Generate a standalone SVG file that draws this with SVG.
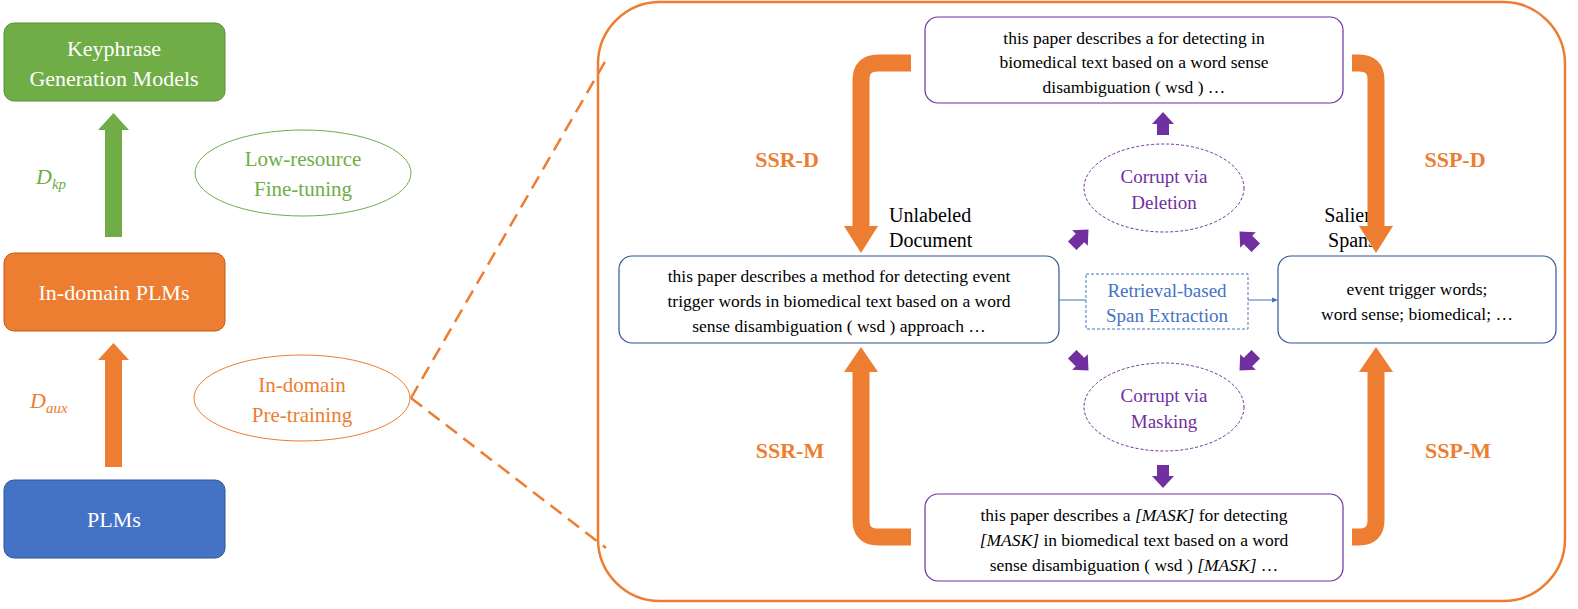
<svg xmlns="http://www.w3.org/2000/svg" width="1578" height="609" viewBox="0 0 1578 609">
<style>
text{font-family:"Liberation Serif","Times New Roman",serif}
.w{fill:#fff;font-size:22px;text-anchor:middle}
.t{fill:#000;font-size:17.5px;text-anchor:middle}
.p{fill:#7030a0;font-size:19px;text-anchor:middle}
.lab{fill:#ed7d31;font-size:22px;font-weight:bold;text-anchor:middle}
.box{fill:#fff;stroke:#7030a0;stroke-width:1.2}
.bbox{fill:#fff;stroke:#2f5597;stroke-width:1.2}
.ob{fill:none;stroke:#ed7d31;stroke-width:17}
.pa{fill:#7030a0}
</style>
<defs>
<polygon id="pa" points="-6,11 6,11 6,0 11,0 0,-12 -11,0 -6,0"/>
</defs>
<g id="kgm"><rect x="4" y="23" width="221" height="78" rx="10" fill="#70ad47" stroke="#5b8f3a"/><text class="w" x="114" y="56">Keyphrase</text><text class="w" x="114" y="86">Generation Models</text></g>
<g id="idplm"><rect x="4" y="253" width="221" height="78" rx="10" fill="#ed7d31" stroke="#c55a11"/><text class="w" x="114" y="300">In-domain PLMs</text></g>
<g id="plm"><rect x="4" y="480" width="221" height="78" rx="10" fill="#4472c4" stroke="#2f5597"/><text class="w" x="114" y="527">PLMs</text></g>
<g id="left-arrows">
<polygon points="105,237 122,237 122,130 129,130 113.5,113 98,130 105,130" fill="#70ad47"/>
<polygon points="105,467 122,467 122,360 129,360 113.5,343 98,360 105,360" fill="#ed7d31"/>
<text x="36" y="184" fill="#70ad47" font-size="22" font-style="italic">D<tspan font-size="15" dy="5">kp</tspan></text>
<text x="30" y="408" fill="#ed7d31" font-size="22" font-style="italic">D<tspan font-size="15" dy="5">aux</tspan></text>
</g>
<g id="finetune"><ellipse cx="303" cy="173" rx="108" ry="43" fill="none" stroke="#70ad47"/><text x="303" y="166" fill="#70ad47" font-size="21" text-anchor="middle">Low-resource</text><text x="303" y="196" fill="#70ad47" font-size="21" text-anchor="middle">Fine-tuning</text></g>
<g id="pretrain"><ellipse cx="302" cy="398" rx="108" ry="43" fill="none" stroke="#ed7d31"/><text x="302" y="392" fill="#ed7d31" font-size="21" text-anchor="middle">In-domain</text><text x="302" y="422" fill="#ed7d31" font-size="21" text-anchor="middle">Pre-training</text></g>
<g id="zoomlines" stroke="#ed7d31" stroke-width="2.5" stroke-dasharray="14,8" fill="none"><path d="M411,398 L606,60"/><path d="M411,398 L606,548"/></g>
<g id="panel"><rect x="598" y="2" width="967" height="599" rx="62" fill="none" stroke="#ed7d31" stroke-width="2.5"/></g>
<g id="delbox"><rect class="box" x="925" y="17" width="418" height="86" rx="13"/><text class="t" x="1134" y="44">this paper describes a for detecting in</text><text class="t" x="1134" y="68">biomedical text based on a word sense</text><text class="t" x="1134" y="93">disambiguation ( wsd ) …</text></g>
<g id="docbox"><rect class="bbox" x="619" y="256" width="440" height="87" rx="13"/><text class="t" x="839" y="282">this paper describes a method for detecting event</text><text class="t" x="839" y="307">trigger words in biomedical text based on a word</text><text class="t" x="839" y="332">sense disambiguation ( wsd ) approach …</text></g>
<g id="spanbox"><rect class="bbox" x="1278" y="256" width="278" height="87" rx="13"/><text class="t" x="1417" y="295">event trigger words;</text><text class="t" x="1417" y="320">word sense; biomedical; …</text></g>
<g id="maskbox"><rect class="box" x="925" y="494" width="418" height="87" rx="13"/><text class="t" x="1134" y="521">this paper describes a <tspan font-style="italic">[MASK]</tspan> for detecting</text><text class="t" x="1134" y="546"><tspan font-style="italic">[MASK]</tspan> in biomedical text based on a word</text><text class="t" x="1134" y="571">sense disambiguation ( wsd ) <tspan font-style="italic">[MASK]</tspan> …</text></g>
<g id="retrieval"><rect x="1086" y="274" width="162" height="55" fill="#fff" stroke="#4472c4" stroke-dasharray="3,2"/><text x="1167" y="297" fill="#4472c4" font-size="19" text-anchor="middle">Retrieval-based</text><text x="1167" y="322" fill="#4472c4" font-size="19" text-anchor="middle">Span Extraction</text></g>
<g id="deletion"><ellipse cx="1164" cy="188" rx="80" ry="44" fill="none" stroke="#7030a0" stroke-dasharray="3,2"/><text class="p" x="1164" y="183">Corrupt via</text><text class="p" x="1164" y="209">Deletion</text></g>
<g id="masking"><ellipse cx="1164" cy="407" rx="80" ry="44" fill="none" stroke="#7030a0" stroke-dasharray="3,2"/><text class="p" x="1164" y="402">Corrupt via</text><text class="p" x="1164" y="428">Masking</text></g>
<g id="doclabel"><text x="889" y="222" font-size="20">Unlabeled</text><text x="889" y="247" font-size="20">Document</text></g>
<g id="spanlabel"><text x="1352" y="222" font-size="20" text-anchor="middle">Salient</text><text x="1352" y="247" font-size="20" text-anchor="middle">Spans</text></g>
<g id="labels"><text class="lab" x="787" y="167">SSR-D</text><text class="lab" x="790" y="458">SSR-M</text><text class="lab" x="1455" y="167">SSP-D</text><text class="lab" x="1458" y="458">SSP-M</text></g>
<g id="connectors">
<path class="ob" d="M911,63 H878 Q861,63 861,80 V228"/><polygon points="844,226 878,226 861,253" fill="#ed7d31"/>
<path class="ob" d="M911,537 H878 Q861,537 861,520 V370"/><polygon points="844,372 878,372 861,347" fill="#ed7d31"/>
<path class="ob" d="M1352,63 H1359 Q1376,63 1376,80 V228"/><polygon points="1359,226 1393,226 1376,253" fill="#ed7d31"/>
<path class="ob" d="M1352,537 H1359 Q1376,537 1376,520 V370"/><polygon points="1359,372 1393,372 1376,347" fill="#ed7d31"/>
<path d="M1059,300 H1086 M1248,300 H1276" stroke="#4472c4" stroke-width="1" fill="none"/>
<polygon points="1278,300 1272,297.5 1272,302.5" fill="#4472c4"/>
<use href="#pa" class="pa" transform="translate(1163,124)"/>
<use href="#pa" class="pa" transform="translate(1163,476) rotate(180)"/>
<use href="#pa" class="pa" transform="translate(1080,238) rotate(45)"/>
<use href="#pa" class="pa" transform="translate(1248,240) rotate(-45)"/>
<use href="#pa" class="pa" transform="translate(1080,362) rotate(135)"/>
<use href="#pa" class="pa" transform="translate(1248,362) rotate(-135)"/>
</g>
</svg>
